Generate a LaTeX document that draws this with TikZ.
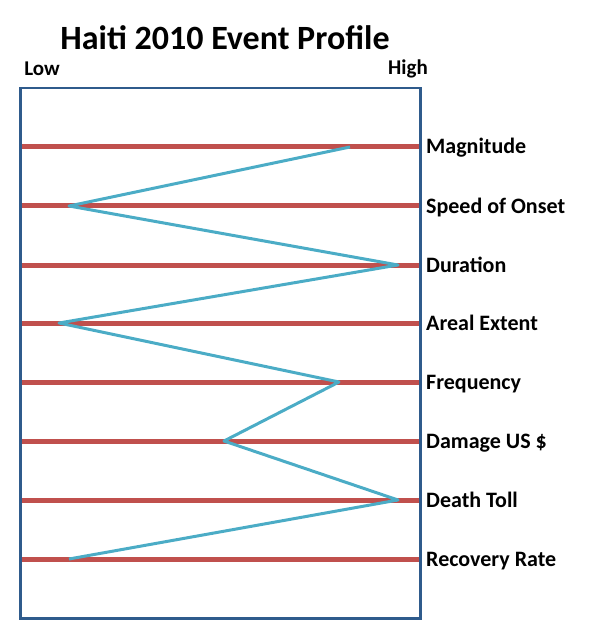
\documentclass[tikz,border=0pt]{standalone}
\usepackage{fontspec}
\setmainfont{Carlito}
\definecolor{boxc}{HTML}{2F5B8C}
\definecolor{redc}{HTML}{C0504D}
\definecolor{bluec}{HTML}{4BACC6}
\begin{document}
\begin{tikzpicture}[x=1pt,y=-1pt,
  lab/.style={anchor=base west,font=\fontsize{22}{24}\selectfont\bfseries,inner sep=0pt},
  bar/.style={redc,line width=5pt},
  prof/.style={bluec,line width=3pt,line join=round}]
\useasboundingbox (0,0) rectangle (603,620);
\node[font=\fontsize{34}{36}\selectfont\bfseries] (title) at (225,38) {Haiti 2010 Event Profile};
\node[font=\fontsize{21}{23}\selectfont\bfseries] (low) at (42,69) {Low};
\node[font=\fontsize{21}{23}\selectfont\bfseries] (high) at (408,69) {High};
\foreach \y/\t/\n in {147/Magnitude/a,206/Speed of Onset/b,265/Duration/c,323/Areal Extent/d,382/Frequency/e,441/Damage US \$/f,500/Death Toll/g,559/Recovery Rate/h}{
  \coordinate (l\n) at (21,\y);
  \coordinate (r\n) at (420,\y);
  \node[lab] (t\n) at (426,\y+7) {\t};
  \draw[bar] (l\n) -- (r\n);
}
\node[draw=boxc,line width=2.5pt,minimum width=400pt,minimum height=530pt,anchor=north west,inner sep=0pt] (box) at (19,87) {};
\coordinate (pa) at (350,147);
\coordinate (pb) at (69,206);
\coordinate (pc) at (398,265);
\coordinate (pd) at (59,323);
\coordinate (pe) at (339,382);
\coordinate (pf) at (224,441);
\coordinate (pg) at (398,500);
\coordinate (ph) at (69,559);
\draw[prof] (pa)--(pb)--(pc)--(pd)--(pe)--(pf)--(pg)--(ph);
\end{tikzpicture}
\end{document}
